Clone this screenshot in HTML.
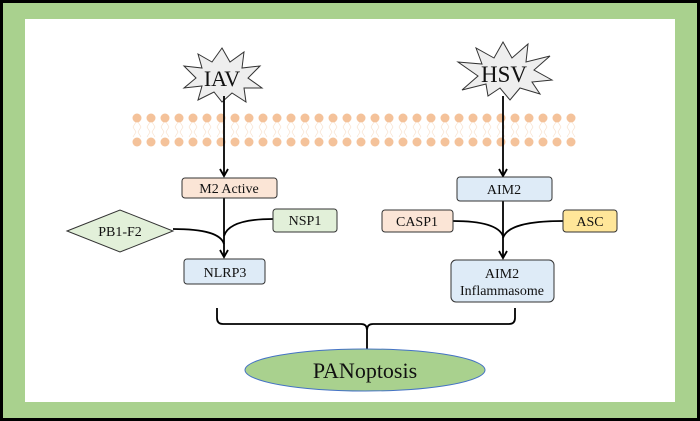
<!DOCTYPE html>
<html><head><meta charset="utf-8"><style>
html,body{margin:0;padding:0;background:#fff}
svg{display:block}
text{font-family:"Liberation Serif",serif;fill:#111}
</style></head><body>
<svg width="700" height="421" viewBox="0 0 700 421" xmlns="http://www.w3.org/2000/svg">
<defs>
<marker id="ah" markerWidth="10" markerHeight="10" refX="8" refY="5" orient="auto" markerUnits="userSpaceOnUse">
<path d="M1,1 L8,5 L1,9" fill="none" stroke="#000" stroke-width="1.8"/>
</marker>
</defs>
<rect x="0" y="0" width="700" height="421" fill="#000"/>
<rect x="3" y="3" width="694" height="415" fill="#a9d18e"/>
<rect x="25" y="19" width="650" height="383" fill="#fff"/>
<g stroke="#f6ddc8" stroke-width="0.6" fill="none" id="tails"></g>
<g fill="#f4c29a" id="dots"></g>
<!-- stars -->
<polygon points="222,48 230,62 244,52 242,68 260,66 248,78 262,88 244,88 246,102 232,93 222,102 214,92 198,100 202,86 184,88 196,78 184,66 202,68 198,54 212,62" fill="#eee" stroke="#333" stroke-width="1"/>
<text x="222" y="86" font-size="22" text-anchor="middle">IAV</text>
<polygon points="503,42 512,58 528,44 526,62 550,56 534,70 552,80 532,82 540,94 520,88 510,100 500,88 488,96 486,84 462,90 478,76 458,62 482,64 476,48 494,58" fill="#eee" stroke="#333" stroke-width="1"/>
<text x="504" y="82" font-size="23" text-anchor="middle">HSV</text>
<!-- arrows -->
<g stroke="#000" stroke-width="1.8" fill="none">
<line x1="224" y1="96" x2="224" y2="176" marker-end="url(#ah)"/>
<line x1="503" y1="96" x2="503" y2="176" marker-end="url(#ah)"/>
<line x1="224" y1="198" x2="224" y2="257" marker-end="url(#ah)"/>
<path d="M173,229 C205,229 221,234 224,244"/>
<path d="M273,219 C240,219 227,226 224,236"/>
<line x1="503" y1="201" x2="503" y2="258" marker-end="url(#ah)"/>
<path d="M453,221 C482,221 499,226 503,236"/>
<path d="M563,221 C528,221 507,226 503,238"/>
<path d="M217,308 L217,318 Q217,324 223,324 L361,324 Q367,324 367,330 L367,350 M367,330 Q367,324 373,324 L509,324 Q515,324 515,318 L515,308"/>
</g>
<!-- boxes -->
<g stroke="#333" stroke-width="1">
<rect x="182" y="178" width="95" height="20" rx="3" fill="#fbe5d6"/>
<rect x="457" y="177" width="95" height="24" rx="3" fill="#deebf7"/>
<rect x="273" y="209" width="64" height="23" rx="3" fill="#e2f0d9"/>
<polygon points="67,231 120,210 173,231 120,252" fill="#e2f0d9"/>
<rect x="184" y="259" width="81" height="25" rx="3" fill="#deebf7"/>
<rect x="382" y="210" width="71" height="22" rx="3" fill="#fbe5d6"/>
<rect x="563" y="210" width="54" height="22" rx="3" fill="#ffe699"/>
<rect x="451" y="260" width="103" height="42" rx="5" fill="#deebf7"/>
</g>
<ellipse cx="365" cy="370" rx="120" ry="21" fill="#a9d18e" stroke="#4472c4" stroke-width="1"/>
<g font-size="14" text-anchor="middle">
<text x="229" y="193">M2 Active</text>
<text x="504" y="194">AIM2</text>
<text x="305" y="225">NSP1</text>
<text x="120" y="236">PB1-F2</text>
<text x="225" y="277">NLRP3</text>
<text x="417" y="226">CASP1</text>
<text x="590" y="226">ASC</text>
<text x="502" y="278">AIM2</text>
<text x="502" y="295">Inflammasome</text>
</g>
<text x="365" y="378" font-size="22" text-anchor="middle">PANoptosis</text>
</svg>
<script>
var g=document.getElementById('dots'),t=document.getElementById('tails'),ns='http://www.w3.org/2000/svg';
for(var x=137;x<=580;x+=14){
 [118,142].forEach(function(y){var c=document.createElementNS(ns,'circle');c.setAttribute('cx',x);c.setAttribute('cy',y);c.setAttribute('r',4.5);g.appendChild(c);});
 var p=document.createElementNS(ns,'path');p.setAttribute('d','M'+(x-1)+',122 l-3,5 l3,5 l-3,5 M'+(x+1)+',122 l3,5 l-3,5 l3,5');t.appendChild(p);
}
</script>
</body></html>
